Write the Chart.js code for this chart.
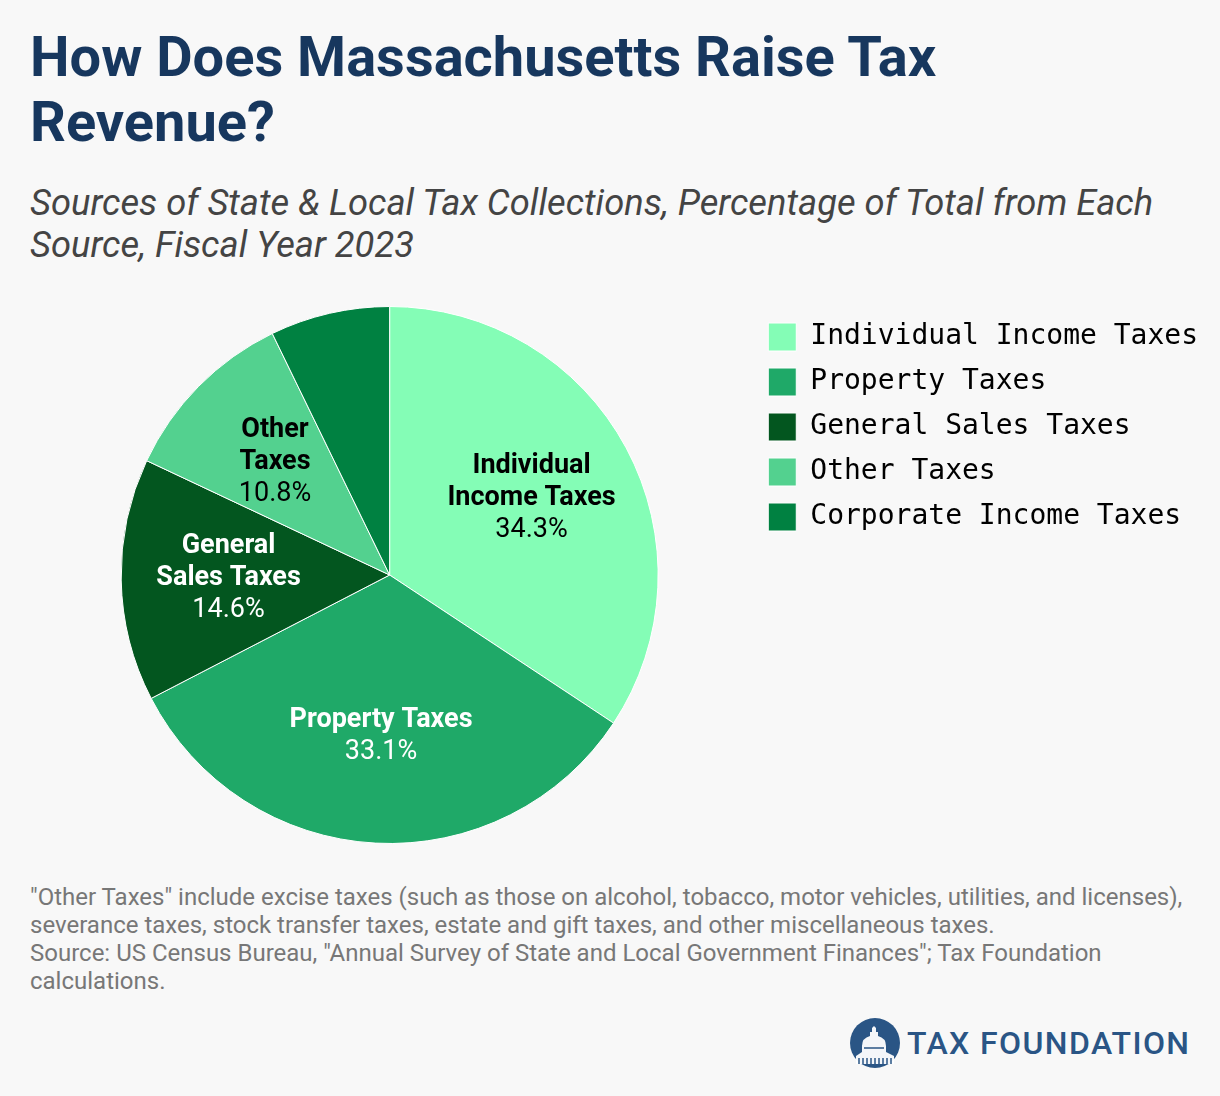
<!DOCTYPE html>
<html>
<head>
<meta charset="utf-8">
<script src="https://cdn.jsdelivr.net/npm/chart.js@4/dist/chart.umd.min.js"></script>
<style>
  body { margin: 0; background: #f8f8f8; width: 1220px; height: 1096px; position: relative; overflow: hidden; font-family: Roboto, sans-serif; }
  h1 { position: absolute; left: 30px; top: 25px; margin: 0; font: bold 56px/65px Roboto, sans-serif; color: #17375e; width: 1000px; }
  .sub { position: absolute; left: 30px; top: 182px; margin: 0; font: italic 36.3px/42px Roboto, sans-serif; color: #444; width: 1160px; }
  #wrap { position: absolute; left: 0; top: 298px; width: 1220px; height: 556px; }
  .foot { position: absolute; left: 30px; top: 883px; width: 1165px; font: 24px/28px Roboto, sans-serif; color: #777; }
  .logo { position: absolute; left: 850px; top: 1018px; height: 50px; display: flex; align-items: center; }
  .logo span { font: 500 32px Roboto, sans-serif; color: #2a5585; margin-left: 7px; letter-spacing: 1.4px; }
</style>
</head>
<body>
<h1>How Does Massachusetts Raise Tax Revenue?</h1>
<p class="sub">Sources of State &amp; Local Tax Collections, Percentage of Total from Each Source, Fiscal Year 2023</p>
<div id="wrap"><canvas id="pie"></canvas></div>
<div class="foot">"Other Taxes" include excise taxes (such as those on alcohol, tobacco, motor vehicles, utilities, and licenses), severance taxes, stock transfer taxes, estate and gift taxes, and other miscellaneous taxes.<br>Source: US Census Bureau, "Annual Survey of State and Local Government Finances"; Tax Foundation calculations.</div>
<div class="logo">
  <svg width="50" height="50" viewBox="0 0 50 50">
    <circle cx="25" cy="25" r="25" fill="#2a5585"/>
    <path d="M6 46 L6 38 L12 34 L12 28 Q12 20 20 18 L20 14 L22 14 L22 10 L24 8 L26 10 L26 14 L28 14 L28 18 Q36 20 36 28 L36 34 L44 38 L44 46 Z" fill="#fff" opacity="0.95"/>
    <path d="M9 40 V46 M13 40 V46 M17 40 V46 M21 40 V46 M25 40 V46 M29 40 V46 M33 40 V46 M37 40 V46 M41 40 V46 M14 30 H34" stroke="#2a5585" stroke-width="1.5"/>
  </svg>
  <span>TAX FOUNDATION</span>
</div>
<script>
// data
const categories = ['Individual Income Taxes', 'Property Taxes', 'General Sales Taxes', 'Other Taxes', 'Corporate Income Taxes'];
const shares = [34.3, 33.1, 14.6, 10.8, 7.2];
const sliceColors = ['#84fdb6', '#1fa968', '#03561f', '#53d18f', '#008141'];
// labels drawn on the slices (null = no label)
const sliceLabels = [['Individual', 'Income Taxes'], ['Property Taxes'], ['General', 'Sales Taxes'], ['Other', 'Taxes'], null];
const labelColors = ['#000', '#fff', '#fff', '#000', null];

// draws name + percent inside each slice
const sliceLabelPlugin = {
    id: 'sliceLabels',
    afterDatasetsDraw(chart) {
        const ctx = chart.ctx;
        const meta = chart.getDatasetMeta(0);
        meta.data.forEach((arc, i) => {
            if (!sliceLabels[i]) return;
            const mid = (arc.startAngle + arc.endAngle) / 2;
            const r = arc.outerRadius * 0.6;
            const cx = arc.x + Math.cos(mid) * r;
            const cy = arc.y + Math.sin(mid) * r;
            const lines = sliceLabels[i].concat([shares[i].toFixed(1) + '%']);
            const lh = 32;
            ctx.save();
            ctx.fillStyle = labelColors[i];
            ctx.textAlign = 'center';
            ctx.textBaseline = 'middle';
            lines.forEach((txt, k) => {
                const isPct = k === lines.length - 1;
                ctx.font = (isPct ? '' : 'bold ') + '27px Roboto';
                ctx.fillText(txt, cx, cy + (k - (lines.length - 1) / 2) * lh);
            });
            ctx.restore();
        });
    }
};

new Chart(document.getElementById('pie'), {
    type: 'pie',
    data: {
        labels: categories,
        datasets: [{
            data: shares,
            backgroundColor: sliceColors,
            borderColor: '#ffffff',
            borderWidth: 1
        }]
    },
    options: {
        responsive: true,
        maintainAspectRatio: false,
        animation: false,
        layout: { padding: { left: 28, right: 12, top: 8, bottom: 10 } },
        plugins: {
            legend: {
                position: 'right',
                align: 'start',
                labels: {
                    boxWidth: 28,
                    boxHeight: 28,
                    padding: 17,
                    color: '#000',
                    font: { family: 'DejaVu Sans Mono', size: 28 }
                }
            },
            tooltip: { enabled: false }
        }
    },
    plugins: [sliceLabelPlugin]
});
</script>
</body>
</html>
